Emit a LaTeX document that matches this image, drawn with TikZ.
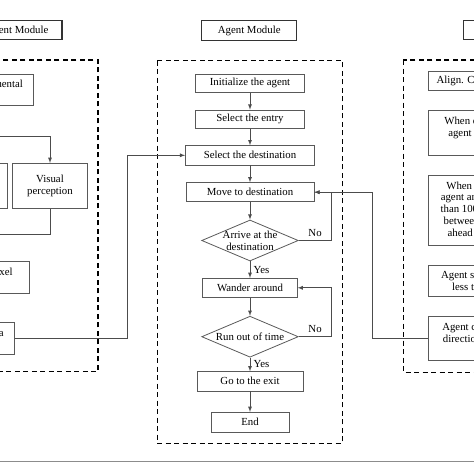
\documentclass[tikz,border=0pt]{standalone}
\usepackage{fontspec}
\setmainfont{Liberation Serif}
\usetikzlibrary{shapes,arrows,positioning}

\begin{document}
\begin{tikzpicture}[x=1pt,y=-1pt,>=latex,
  font=\fontsize{10.8}{11.7}\selectfont,
  box/.style={draw=black!65,line width=0.8pt,rectangle,inner sep=0pt,align=center},
  decision/.style={draw=black!65,line width=0.8pt,diamond,aspect=2.36,inner sep=-2pt,
    align=center,minimum width=96.6pt,minimum height=41pt},
  title/.style={draw=black!80,line width=1.1pt,inner sep=0pt,minimum height=19.5pt},
  frame/.style={draw=black,line width=1.2pt,dash pattern=on 5pt off 3.5pt},
  flow/.style={draw=black!70,line width=0.8pt,->},
  link/.style={draw=black!70,line width=0.8pt}
]
\useasboundingbox (0,0) rectangle (474,474);
\clip (0,0) rectangle (474,474);

% module titles
\node[title,minimum width=120pt] (envtitle) at (2,30) {Environment Module};
\node[title,minimum width=95pt] (agenttitle) at (249.2,30.5) {Agent Module};
\node[title,minimum width=90pt] (ruletitle) at (508.3,30) {};

% module frames
\draw[frame] (-90,60) rectangle (98,371.7);
\draw[frame] (157.3,60.7) rectangle (342.3,443.3);
\draw[frame] (403.3,60) rectangle (590,372.3);

% environment module
\node[box,minimum width=85pt,minimum height=31.3pt] (envmap) at (-9.2,89.6) {Environmental\\\mbox{}};
\node[box,minimum width=70pt,minimum height=45pt] (audio) at (-28,185.8) {};
\node[box,minimum width=74.6pt,minimum height=45pt] (visual) at (50,185.8) {Visual\\perception};
\node[box,minimum width=105pt,minimum height=31.6pt] (pixel) at (-23.5,277.5) {Grid-based pixel\\\mbox{}};
\node[box,minimum width=72pt,minimum height=31.3pt] (output) at (-21.7,338.3) {Output data\\\mbox{}};

% agent module
\node[box,minimum width=109pt,minimum height=18.7pt] (init) at (250,83.3) {Initialize the agent};
\node[box,minimum width=109pt,minimum height=18.3pt] (entry) at (250,119.2) {Select the entry};
\node[box,minimum width=129pt,minimum height=19.3pt] (dest) at (250,155.3) {Select the destination};
\node[box,minimum width=128pt,minimum height=19pt] (move) at (250,192.2) {Move to destination};
\node[decision] (arrive) at (250,240.5) {Arrive at the\\destination};
\node[box,minimum width=94.4pt,minimum height=19pt] (wander) at (250,287.8) {Wander around};
\node[decision] (runout) at (250,336.7) {Run out of time};
\node[box,minimum width=106pt,minimum height=19.3pt] (exit) at (250,381.3) {Go to the exit};
\node[box,minimum width=78pt,minimum height=20pt] (end) at (250,422.3) {End};

% rule module
\node[box,minimum width=143.4pt,minimum height=19.7pt] (align) at (500,80.8) {Align. Cohesion. Separation.};
\node[box,minimum width=143.4pt,minimum height=45pt] (crowd) at (500,132.5)
  {When crowd is dense, the\\agent follows the others\\\mbox{}};
\node[box,minimum width=143.4pt,minimum height=70pt] (leader) at (500,210)
  {When the distance of the\\agent and its leader is more\\than 100 cm, it reduces gap\\between itself and the one\\ahead with higher speed};
\node[box,minimum width=143.4pt,minimum height=31.7pt] (wall) at (500,281)
  {Agent slows down if gap is\\less than safe distance};
\node[box,minimum width=143.4pt,minimum height=44.7pt] (turn) at (500,338.4)
  {Agent changes the moving\\direction toward the target\\\mbox{}};

% connectors
\coordinate (envin) at (-20,136);
\coordinate (envout) at (-20,234);
\draw[flow] (envin) -| (visual.north);
\draw[link] (visual.south) |- (envout);

\draw[flow] (init) -- (entry);
\draw[flow] (entry) -- (dest);
\draw[flow] (dest) -- (move);
\draw[flow] (move) -- (arrive);
\draw[flow] (arrive) -- node[right]{Yes} (wander);
\draw[flow] (wander) -- (runout);
\draw[flow] (runout) -- node[right]{Yes} (exit);
\draw[flow] (exit) -- (end);

\draw[flow] (arrive.east) -- node[above]{No} ++(32.7,0) |- (move.east);
\draw[flow] (runout.east) -- node[above]{No} ++(32.7,0) |- (wander.east);

\draw[flow] (output.east) -- ++(112.4,0) |- (dest.west);
\draw[flow] (turn.west) -- ++(-56,0) |- (move.east);

% bottom rule
\draw[black!45,line width=1pt] (-10,461) -- (484,461);
\end{tikzpicture}
\end{document}
